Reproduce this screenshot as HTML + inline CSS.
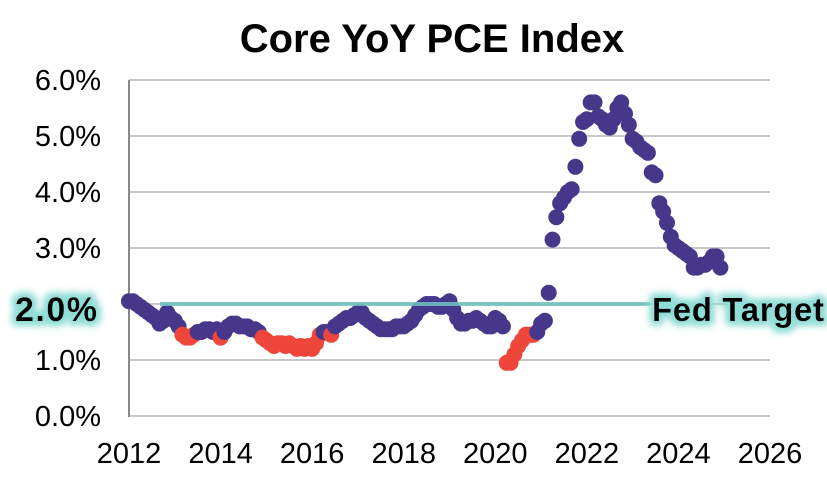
<!DOCTYPE html>
<html><head><meta charset="utf-8"><style>
body{margin:0;background:#fff;}
svg{display:block;font-family:"Liberation Sans",Arial,sans-serif;}
</style></head><body>
<svg id="chart" width="827" height="496">
<defs>
<filter id="glow" x="-30%" y="-60%" width="160%" height="220%">
<feMorphology in="SourceAlpha" operator="dilate" radius="3" result="d"/>
<feGaussianBlur in="d" stdDeviation="4" result="b"/>
<feFlood flood-color="#8fdcd6"/>
<feComposite in2="b" operator="in" result="g"/>
<feMerge><feMergeNode in="g"/><feMergeNode in="g"/><feMergeNode in="SourceGraphic"/></feMerge>
</filter>
</defs>
<text x="432" y="52" text-anchor="middle" font-size="40" font-weight="bold">Core YoY PCE Index</text>
<g id="grid"></g>
<g id="yticks"></g>
<g id="xticks"></g>
<line x1="129" y1="80" x2="129" y2="417" stroke="#888" stroke-width="2"/>
<g id="dots"></g>
<line id="target" stroke="#6cc4bf" stroke-width="4" stroke-opacity="0.85"/>
<text x="15" y="321" font-size="34" font-weight="bold" filter="url(#glow)" textLength="82">2.0%</text>
<text x="652" y="321" font-size="33" font-weight="bold" filter="url(#glow)" textLength="172">Fed Target</text>
<script>
const yTicks=[0,1,2,3,4,5,6];
const xTicks=[2012,2014,2016,2018,2020,2022,2024,2026];
const startYear=2012;
const pceValues=[
2.05,2.05,2.0,1.95,1.9,1.85,1.8,1.75,1.65,1.7,1.85,1.75,
1.7,1.6,1.45,1.4,1.4,1.45,1.5,1.5,1.55,1.55,1.5,1.55,
1.4,1.5,1.6,1.65,1.65,1.6,1.6,1.6,1.55,1.55,1.5,1.4,
1.35,1.3,1.25,1.3,1.3,1.25,1.3,1.25,1.2,1.25,1.2,1.25,
1.2,1.3,1.45,1.5,1.5,1.45,1.6,1.65,1.7,1.75,1.75,1.8,
1.85,1.85,1.75,1.7,1.65,1.6,1.55,1.55,1.55,1.55,1.6,1.6,
1.6,1.65,1.7,1.8,1.9,1.95,2.0,2.0,2.0,1.95,1.95,2.0,
2.05,1.9,1.75,1.65,1.65,1.7,1.7,1.75,1.7,1.65,1.6,1.6,
1.75,1.7,1.6,0.95,0.95,1.1,1.25,1.35,1.45,1.45,1.45,1.5,
1.65,1.7,2.2,3.15,3.55,3.8,3.9,4.0,4.05,4.45,4.95,5.25,
5.3,5.6,5.6,5.35,5.3,5.2,5.15,5.3,5.5,5.6,5.4,5.2,
4.95,4.9,4.8,4.75,4.7,4.35,4.3,3.8,3.65,3.45,3.2,3.05,
3.0,2.95,2.9,2.85,2.65,2.65,2.7,2.7,2.75,2.85,2.85,2.65];
const targetValue=[2.0];
const NS="http://www.w3.org/2000/svg";
const X=y=>129+(y-2012)*(770-129)/14;
const Y=v=>416-v*56;
function mk(t,a,p){const e=document.createElementNS(NS,t);for(const k in a)e.setAttribute(k,a[k]);document.getElementById(p).appendChild(e);return e;}
yTicks.forEach(v=>{
  if(v>0){const g=mk('line',{x1:129,x2:770,y1:Y(v),y2:Y(v),stroke:'#c8c8c8','stroke-width':2},'grid');
  
  }
  if(v===2)return;
  const t=mk('text',{x:101,y:Y(v)+10,'text-anchor':'end','font-size':29},'yticks');
  t.textContent=v.toFixed(1)+'%';
  
  
});
const b=mk('line',{x1:129,x2:770,y1:Y(0),y2:Y(0),stroke:'#c8c8c8','stroke-width':2},'grid');


xTicks.forEach(v=>{
  const t=mk('text',{x:X(v),y:463,'text-anchor':'middle','font-size':29},'xticks');
  t.textContent=v;
  
  
});
pceValues.forEach((v,i)=>{
  const c=mk('circle',{cx:X(startYear+i/12),cy:Y(v),r:8,fill:v<1.5?'#ef463b':'#47378b'},'dots');
  
  
});
const tl=document.getElementById('target');
tl.setAttribute('x1',160);tl.setAttribute('x2',650);
tl.setAttribute('y1',Y(targetValue[0]));tl.setAttribute('y2',Y(targetValue[0]));
</script>
</svg>
</body></html>
